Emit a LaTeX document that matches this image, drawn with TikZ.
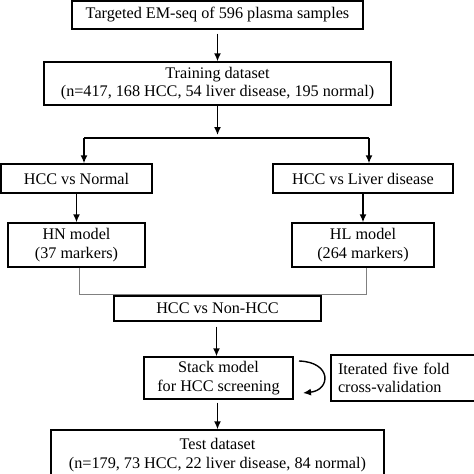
\documentclass[tikz,border=0pt]{standalone}
\usepackage{fontspec}
\setmainfont{Liberation Serif}
\usetikzlibrary{arrows.meta}
\begin{document}
\begin{tikzpicture}[x=1pt,y=-1pt,
  box/.style={draw=black,line width=1.4pt,inner sep=0pt,align=center,
    font=\fontsize{16.2}{18.5}\selectfont},
  arr/.style={line width=1.4pt,-{Latex[length=8pt,width=7pt]}},
  gline/.style={draw=gray,line width=1pt}]
\useasboundingbox (0,0) rectangle (474,474);
\clip (0,0) rectangle (474,474);
\node[box,minimum width=291pt,minimum height=28pt] (em) at (217.5,15) {Targeted EM-seq of 596 plasma samples};
\node[box,minimum width=347pt,minimum height=43pt] (train) at (217.5,83.5) {Training dataset\\(n=417, 168 HCC, 54 liver disease, 195 normal)};
\node[box,minimum width=151pt,minimum height=29pt] (hn0) at (76.5,178.5) {HCC vs Normal};
\node[box,minimum width=180pt,minimum height=29pt] (hl0) at (363,178.5) {HCC vs Liver disease};
\node[box,minimum width=137pt,minimum height=44pt] (hn) at (76.5,245) {HN model\\(37 markers)};
\node[box,minimum width=142pt,minimum height=44pt] (hl) at (363,245) {HL model\\(264 markers)};
\node[box,minimum width=207pt,minimum height=25pt] (non) at (217.5,308.5) {HCC vs Non-HCC};
\node[box,minimum width=149pt,minimum height=42pt] (stack) at (218.5,378) {Stack model\\for HCC screening};
\node[box,minimum width=147pt,minimum height=46pt,align=left,text width=133pt] (iter) at (404.5,378) {\makebox[121pt][s]{Iterated five fold}\\cross-validation};
\node[box,minimum width=333pt,minimum height=50pt] (test) at (217.5,455) {Test dataset\\(n=179, 73 HCC, 22 liver disease, 84 normal)};
% connectors
\draw[arr] (em.south) ++(0,4) -- (train.north);
\coordinate (split) at (217.5,135);
\draw[arr] (train.south) -- (split);
\coordinate (sl) at (84,138);
\coordinate (sr) at (369,138);
\draw[line width=1.2pt] (sl) -- (sr);
\draw[arr] (sl) -- (sl |- hn0.north);
\draw[arr] (sr) -- (sr |- hl0.north);
\draw[arr] (hn0.south) -- (hn.north);
\draw[arr] (hl0.south) -- (hl.north);
\coordinate (jl) at (79,294);
\coordinate (jr) at (366,294);
\draw[gline] (jl |- hn.south) -- (jl) -- (jr) -- (jr |- hl.south);
\draw[arr] (non.south) ++(-1,5) -- ([xshift=-1pt]non.south |- stack.north);
\draw[arr] (stack.south) ++(-1,3) -- ([xshift=-1pt]stack.south |- test.north);
\coordinate (c1) at (299,361);
\coordinate (c2) at (303,393);
\draw[arr] (c1) .. controls (332,362) and (331,390) .. (c2);
\end{tikzpicture}
\end{document}
